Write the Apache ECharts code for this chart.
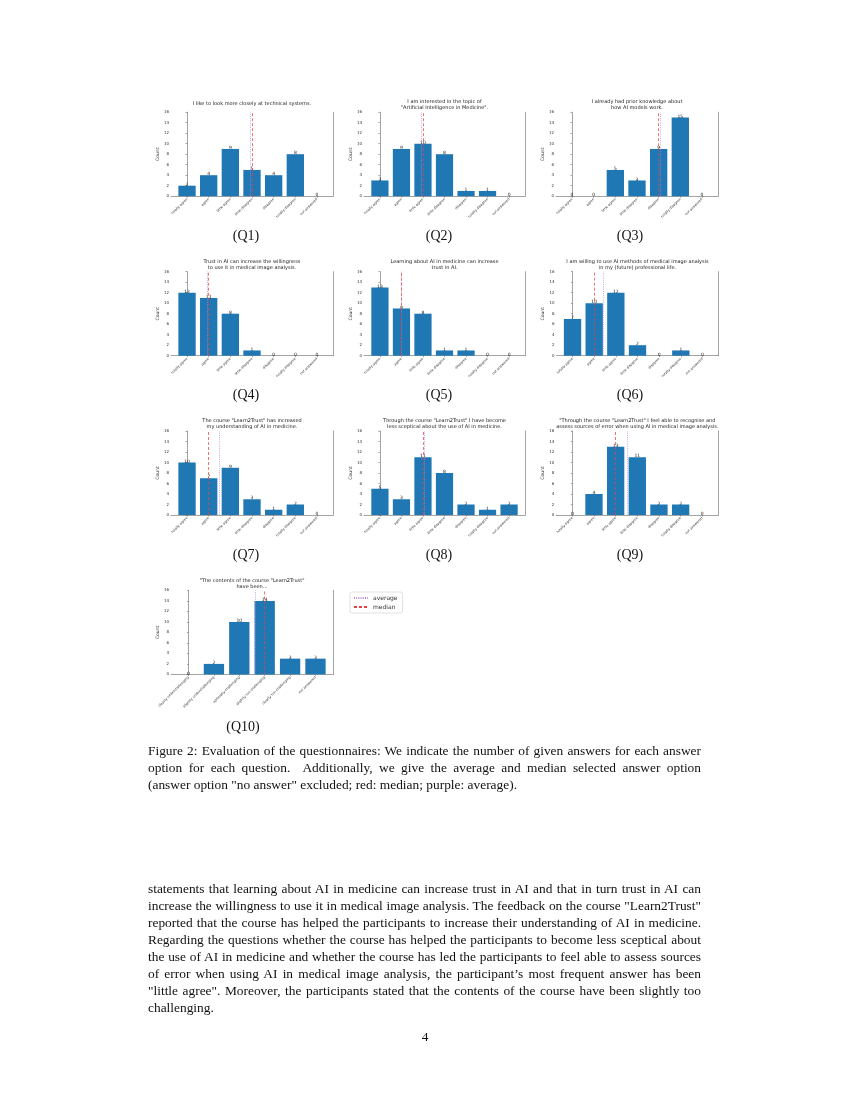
<!DOCTYPE html>
<html><head><meta charset="utf-8">
<script src="https://cdn.jsdelivr.net/npm/echarts@6/dist/echarts.min.js"></script>
<style>
html,body{margin:0;padding:0;background:#fff;}
#page{position:relative;width:850px;height:1100px;overflow:hidden;background:#fff;}
#chart{position:absolute;left:0;top:0;width:850px;height:1100px;}
.t{position:absolute;font-family:"Liberation Serif","Times New Roman",serif;color:#111;white-space:nowrap;}
.lab{font-size:14px;width:100px;text-align:center;line-height:17px;}
.line{left:148px;width:553px;font-size:13.4px;line-height:17px;text-align:justify;text-align-last:justify;}
.last{text-align-last:left;}
</style></head>
<body><div id="page"><div id="chart"></div>
<div class="t lab" style="left:196px;top:227px">(Q1)</div>
<div class="t lab" style="left:389px;top:227px">(Q2)</div>
<div class="t lab" style="left:580px;top:227px">(Q3)</div>
<div class="t lab" style="left:196px;top:386px">(Q4)</div>
<div class="t lab" style="left:389px;top:386px">(Q5)</div>
<div class="t lab" style="left:580px;top:386px">(Q6)</div>
<div class="t lab" style="left:196px;top:546px">(Q7)</div>
<div class="t lab" style="left:389px;top:546px">(Q8)</div>
<div class="t lab" style="left:580px;top:546px">(Q9)</div>
<div class="t lab" style="left:193px;top:718px">(Q10)</div>
<div class="t line" style="top:741.5px">Figure 2: Evaluation of the questionnaires: We indicate the number of given answers for each answer</div>
<div class="t line" style="top:758.5px">option for each question.&nbsp; Additionally, we give the average and median selected answer option</div>
<div class="t line last" style="top:775.5px">(answer option "no answer" excluded; red: median; purple: average).</div>
<div class="t line" style="top:879.5px">statements that learning about AI in medicine can increase trust in AI and that in turn trust in AI can</div>
<div class="t line" style="top:896.5px">increase the willingness to use it in medical image analysis. The feedback on the course "Learn2Trust"</div>
<div class="t line" style="top:913.5px">reported that the course has helped the participants to increase their understanding of AI in medicine.</div>
<div class="t line" style="top:930.5px">Regarding the questions whether the course has helped the participants to become less sceptical about</div>
<div class="t line" style="top:947.5px">the use of AI in medicine and whether the course has led the participants to feel able to assess sources</div>
<div class="t line" style="top:964.5px">of error when using AI in medical image analysis, the participant’s most frequent answer has been</div>
<div class="t line" style="top:981.5px">"little agree". Moreover, the participants stated that the contents of the course have been slightly too</div>
<div class="t line last" style="top:998.5px">challenging.</div>
<div class="t lab" style="left:375px;top:1028px;font-size:13.4px">4</div>
</div>
<script>
// ---------- data ----------
const agreeOptions = ["totally agree","agree","little agree","little disagree","disagree","totally disagree","not answered"];
const challengeOptions = ["clearly underchallenging","slightly underchallenging","optimally challenging","slightly too challenging","clearly too challenging","not answered"];

const q1  = [2, 4, 9, 5, 4, 8, 0];
const q2  = [3, 9, 10, 8, 1, 1, 0];
const q3  = [0, 0, 5, 3, 9, 15, 0];
const q4  = [12, 11, 8, 1, 0, 0, 0];
const q5  = [13, 9, 8, 1, 1, 0, 0];
const q6  = [7, 10, 12, 2, 0, 1, 0];
const q7  = [10, 7, 9, 3, 1, 2, 0];
const q8  = [5, 3, 11, 8, 2, 1, 2];
const q9  = [0, 4, 13, 11, 2, 2, 0];
const q10 = [0, 2, 10, 14, 3, 3];

const averages = [2.91, 1.94, 4.06, 0.94, 1.00, 1.41, 1.50, 2.07, 2.53, 2.62];
const medians  = [3, 2, 4, 1, 1, 1, 1, 2, 2, 3];

const titles = [
  "I like to look more closely at technical systems.",
  "I am interested in the topic of\n\"Artificial Intelligence in Medicine\".",
  "I already had prior knowledge about\nhow AI models work.",
  "Trust in AI can increase the willingness\nto use it in medical image analysis.",
  "Learning about AI in medicine can increase\ntrust in AI.",
  "I am willing to use AI methods of medical image analysis\nin my (future) professional life.",
  "The course \"Learn2Trust\" has increased\nmy understanding of AI in medicine.",
  "Through the course \"Learn2Trust\" I have become\nless sceptical about the use of AI in medicine.",
  "\"Through the course \"Learn2Trust\" I feel able to recognise and\nassess sources of error when using AI in medical image analysis.",
  "\"The contents of the course \"Learn2Trust\"\nhave been..."
];

// ---------- layout (px) ----------
const counts = [q1,q2,q3,q4,q5,q6,q7,q8,q9,q10];
const layout = [
  [171,112.2,162,84],[364,112.2,161,84],[556,112.2,162,84],
  [171,271.7,162,84],[364,271.7,161,84],[556.5,271.7,162,84],
  [171,431,162,84],[364,431,161,84],[556.3,431,162,84],
  [171,590.4,162,84]
];

const FONT = "DejaVu Sans";
const BLUE = "#1f77b4";
const AVG_COLOR = "#b987d0";
const MED_COLOR = "#e8413e";
const SPINE = {color:"#666", width:0.6};

const grid=[], xAxis=[], yAxis=[], series=[], graphic=[];
counts.forEach((vals,i)=>{
  const [l,t,w,h] = layout[i];
  const cats = (i===9) ? challengeOptions : agreeOptions;
  const n = cats.length;
  const pad = 0.05*(n-1+0.8)+0.4;
  const xmin = -pad, xmax = n-1+pad;
  const unit = w/(xmax-xmin);
  const idx = cats.map((c,k)=>k);
  grid.push({left:l, top:t, width:w, height:h, containLabel:false});
  xAxis.push({
    gridIndex:i, type:"value", min:xmin, max:xmax,
    axisLine:{show:true, onZero:false, lineStyle:SPINE},
    axisTick:{show:true, customValues:idx, length:1.5, lineStyle:SPINE},
    axisLabel:{customValues:idx, formatter:(v)=>cats[Math.round(v)], rotate:45, fontSize:3.4, margin:2.5, color:"#333", fontFamily:FONT},
    splitLine:{show:false}
  });
  yAxis.push({
    gridIndex:i, type:"value", min:0, max:16, interval:2,
    name:"Count", nameLocation:"middle", nameGap:9,
    nameTextStyle:{fontSize:4.5, color:"#333", fontFamily:FONT},
    axisLine:{show:true, lineStyle:SPINE},
    axisTick:{show:true, length:1.5, lineStyle:SPINE},
    axisLabel:{fontSize:4, margin:2, color:"#333", fontFamily:FONT},
    splitLine:{show:false}
  });
  yAxis.push({
    gridIndex:i, type:"value", min:0, max:16, position:"right",
    axisLine:{show:true, lineStyle:SPINE}, axisTick:{show:false},
    axisLabel:{show:false}, splitLine:{show:false}
  });
  series.push({
    type:"bar", xAxisIndex:i, yAxisIndex:2*i,
    data: vals.map((v,k)=>[k,v]),
    barWidth: 0.8*unit,
    itemStyle:{color:BLUE},
    label:{show:true, position:"top", distance:-1.5, fontSize:4.5, color:"#222", fontFamily:FONT,
           formatter:(p)=>String(p.value[1])},
    markLine:{
      silent:true, symbol:["none","none"], label:{show:false}, z:5,
      data:[
        {xAxis:averages[i], lineStyle:{color:AVG_COLOR, type:[1,1.2], width:0.8, opacity:0.9}},
        {xAxis:medians[i], lineStyle:{color:MED_COLOR, type:[3,2], width:0.8, opacity:0.9}}
      ]
    }
  });
  const oneLine = titles[i].indexOf("\n") < 0;
  graphic.push({
    type:"text", x:l+w/2, y: oneLine ? t-5 : t-1, silent:true,
    style:{text:titles[i], align:"center", verticalAlign:"bottom", fontSize:5, lineHeight:6,
           fill:"#222", fontFamily:FONT}
  });
});

// legend-only series for the average / median lines (symbols hidden)
series.push({type:"line", name:"average", xAxisIndex:9, yAxisIndex:18, data:[], symbol:"none",
  lineStyle:{color:AVG_COLOR, type:[1,1.2], width:1}, itemStyle:{color:AVG_COLOR, opacity:0}});
series.push({type:"line", name:"median", xAxisIndex:9, yAxisIndex:18, data:[], symbol:"none",
  lineStyle:{color:MED_COLOR, type:[3,2], width:1}, itemStyle:{color:MED_COLOR, opacity:0}});

const chart = echarts.init(document.getElementById("chart"), null, {renderer:"canvas"});
chart.setOption({
  animation:false,
  backgroundColor:"transparent",
  textStyle:{fontFamily:FONT},
  grid, xAxis, yAxis, series, graphic,
  legend:{
    data:["average","median"], orient:"vertical", left:350, top:592,
    itemWidth:14, itemHeight:5, itemGap:3,
    itemStyle:{opacity:0, borderWidth:0},
    textStyle:{fontSize:6, color:"#333", fontFamily:FONT},
    borderColor:"#ccc", borderWidth:0.6, borderRadius:2, padding:[3,5,3,3],
    selectedMode:false
  }
});
</script>
</body></html>
